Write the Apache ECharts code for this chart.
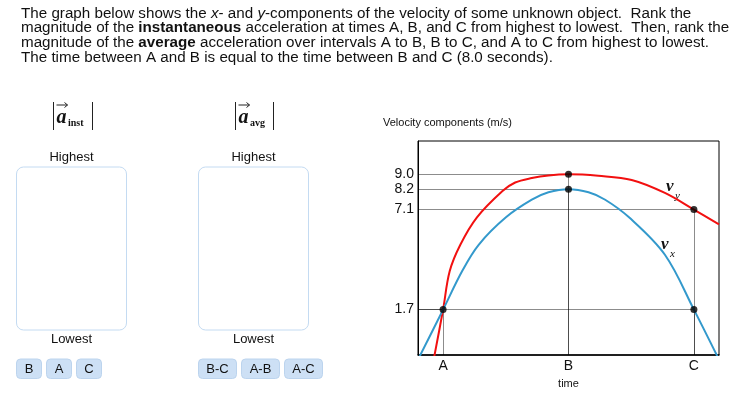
<!DOCTYPE html>
<html style="height: 100%">
<head>
<meta charset="utf-8" />
<title>Velocity components</title>
<script src="https://cdn.jsdelivr.net/npm/echarts@6/dist/echarts.min.js"></script>
</head>
<body style="height: 100%; margin: 0; background: #fff">
<div id="container" style="width: 742px; height: 397px"></div>
<script type="text/javascript">
// instants marked on the time axis (s)
const timeLabels = ["A", "B", "C"];
const timeValues = [0, 8, 16];

// v_y (red curve)
const vyTime = [-0.6, 0, 0.42, 1.1, 2.16, 3.79, 4.6, 5.66, 6.72, 8, 9.9, 12.03, 14.15, 16, 17.6];
const vyValue = [-1.0, 1.7, 3.77, 5.2, 6.68, 8.1, 8.56, 8.8, 8.94, 9.0, 8.92, 8.7, 8.0, 7.1, 6.3];

// v_x (blue curve)
const vxTime = [-1.6, 0, 1.21, 2.27, 4.01, 5.66, 6.72, 8, 9.28, 10.34, 11.86, 14.15, 16, 17.6];
const vxValue = [-1.0, 1.7, 3.77, 5.2, 6.68, 7.63, 8.03, 8.2, 8.03, 7.63, 6.68, 4.66, 1.7, -1.0];

// black dots with their drop lines
const dotTime = [0, 8, 8, 16, 16];
const dotValue = [1.7, 9.0, 8.2, 7.1, 1.7];

const yTicks = [1.7, 7.1, 8.2, 9.0];
const instChoices = ["B", "A", "C"];
const avgChoices = ["B-C", "A-B", "A-C"];

const xMin = -1.6, xMax = 17.6, yMin = -0.75, yMax = 10.8;

const sans = "'Liberation Sans', Arial, sans-serif";
const serif = "'Liberation Serif', 'Times New Roman', serif";

let pair = (xs, ys) => xs.map((x, i) => [x, ys[i]]);

// drop lines from each dot to both axes
let dropLines = [];
dotTime.forEach((t, i) => {
  let v = dotValue[i];
  dropLines.push([{ coord: [xMin, v] }, { coord: [t, v] }]);
  dropLines.push([{ coord: [t, yMin] }, { coord: [t, v] }]);
});

// question text, ranking boxes and choice buttons
let graphics = [];
let para = [
  "The graph below shows the {i|x}- and {i|y}-components of the velocity of some unknown object.  Rank the",
  "magnitude of the {b|instantaneous} acceleration at times A, B, and C from highest to lowest.  Then, rank the",
  "magnitude of the {b|average} acceleration over intervals A to B, B to C, and A to C from highest to lowest.",
  "The time between A and B is equal to the time between B and C (8.0 seconds).",
];
para.forEach((line, i) => {
  graphics.push({
    type: "text", x: 21, y: 13.5 + i * 14.7,
    style: {
      text: line, font: "15.2px " + sans, fill: "#111",
      textVerticalAlign: "middle",
      rich: {
        i: { fontStyle: "italic", fontSize: 15.2, fontFamily: sans, fill: "#111" },
        b: { fontWeight: "bold", fontSize: 15.2, fontFamily: sans, fill: "#111" },
      },
    },
  });
});

function magnitude(x0, width, sub) {
  let gray = "#222";
  graphics.push(
    { type: "line", shape: { x1: x0, y1: 102, x2: x0, y2: 130 }, style: { stroke: gray, lineWidth: 1 } },
    { type: "line", shape: { x1: x0 + width, y1: 102, x2: x0 + width, y2: 130 }, style: { stroke: gray, lineWidth: 1 } },
    { type: "line", shape: { x1: x0 + 3, y1: 105, x2: x0 + 14, y2: 105 }, style: { stroke: gray, lineWidth: 1 } },
    { type: "polyline", shape: { points: [[x0 + 11, 102.5], [x0 + 14, 105], [x0 + 11, 107.5]] }, style: { stroke: gray, lineWidth: 1, fill: null } },
    { type: "text", x: x0 + 3, y: 117.5, style: { text: "a", font: "italic bold 20px " + serif, fill: "#111", textVerticalAlign: "middle" } },
    { type: "text", x: x0 + 14.5, y: 123.5, style: { text: sub, font: "bold 10px " + serif, fill: "#111", textVerticalAlign: "middle" } }
  );
}
magnitude(53.5, 39, "inst");
magnitude(235.5, 38, "avg");

function rankColumn(x0, choices, widths) {
  let cx = x0 + 55;
  graphics.push(
    { type: "text", x: cx, y: 157, style: { text: "Highest", font: "13px " + sans, fill: "#111", textAlign: "center", textVerticalAlign: "middle" } },
    { type: "rect", shape: { x: x0, y: 167, width: 110, height: 163, r: 7 }, style: { fill: "#fff", stroke: "#c4dbf2", lineWidth: 1 } },
    { type: "text", x: cx, y: 339.5, style: { text: "Lowest", font: "13px " + sans, fill: "#111", textAlign: "center", textVerticalAlign: "middle" } }
  );
  let bx = x0;
  choices.forEach((c) => {
    graphics.push(
      { type: "rect", shape: { x: bx, y: 359, width: widths, height: 19.5, r: 4 }, style: { fill: "#cde0f5", stroke: "#bcd4ee", lineWidth: 1 } },
      { type: "text", x: bx + widths / 2, y: 369, style: { text: c, font: "13px " + sans, fill: "#111", textAlign: "center", textVerticalAlign: "middle" } }
    );
    bx += widths + 5;
  });
}
rankColumn(16.5, instChoices, 25);
rankColumn(198.5, avgChoices, 38);

// chart title and curve names
graphics.push(
  { type: "text", x: 383, y: 123, style: { text: "Velocity components (m/s)", font: "11px " + sans, fill: "#111", textVerticalAlign: "middle" } },
  { type: "text", x: 666, y: 187, style: { text: "v", font: "italic bold 17px " + serif, fill: "#111", textVerticalAlign: "middle" } },
  { type: "text", x: 675, y: 196, style: { text: "y", font: "italic 11px " + serif, fill: "#111", textVerticalAlign: "middle" } },
  { type: "text", x: 661, y: 245, style: { text: "v", font: "italic bold 17px " + serif, fill: "#111", textVerticalAlign: "middle" } },
  { type: "text", x: 670, y: 254, style: { text: "x", font: "italic 11px " + serif, fill: "#111", textVerticalAlign: "middle" } }
);

let dom = document.getElementById("container");
let chart = echarts.init(dom);
chart.setOption({
  animation: false,
  backgroundColor: "#fff",
  graphic: graphics,
  grid: {
    left: 418, right: 23, top: 141, bottom: 42,
    show: true, borderColor: "#000", borderWidth: 1,
  },
  xAxis: {
    type: "value", min: xMin, max: xMax,
    name: "time", nameLocation: "middle", nameGap: 23,
    nameTextStyle: { fontSize: 11, fontFamily: sans, color: "#111" },
    axisLine: { show: true, onZero: false, lineStyle: { color: "#000", width: 1.5 } },
    axisTick: { show: false },
    splitLine: { show: false },
    axisLabel: {
      customValues: timeValues, margin: 4,
      fontSize: 14, fontFamily: sans, color: "#111",
      formatter: (v) => timeLabels[timeValues.indexOf(v)],
    },
  },
  yAxis: {
    type: "value", min: yMin, max: yMax,
    axisLine: { show: true, onZero: false, lineStyle: { color: "#000", width: 1 } },
    axisTick: { show: false },
    splitLine: { show: false },
    axisLabel: {
      customValues: yTicks, margin: 4,
      fontSize: 14, fontFamily: sans, color: "#111",
      formatter: (v) => v.toFixed(1),
    },
  },
  series: [
    {
      name: "v_y", type: "line", data: pair(vyTime, vyValue),
      smooth: 0.35, showSymbol: false, clip: true,
      lineStyle: { color: "#f21010", width: 2 }, z: 3,
    },
    {
      name: "v_x", type: "line", data: pair(vxTime, vxValue),
      smooth: 0.35, showSymbol: false, clip: true,
      lineStyle: { color: "#3399cc", width: 2 }, z: 3,
    },
    {
      name: "points", type: "scatter", data: pair(dotTime, dotValue),
      symbolSize: 7, itemStyle: { color: "#000" }, z: 5,
      markLine: {
        silent: true, symbol: "none", label: { show: false },
        lineStyle: { color: "rgba(0,0,0,0.45)", width: 1, type: "solid" },
        data: dropLines, z: 1,
      },
    },
  ],
});
</script>
</body>
</html>
